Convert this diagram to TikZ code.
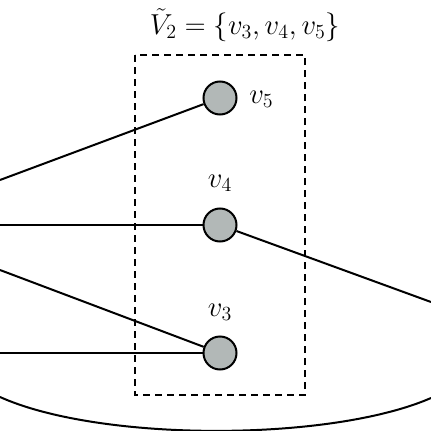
\documentclass[tikz,border=0pt]{standalone}
\definecolor{nodegray}{RGB}{178,184,183}
\begin{document}
\begin{tikzpicture}[x=1pt,y=-1pt,
  vert/.style={circle,draw=black,fill=nodegray,line width=2pt,minimum size=33pt,inner sep=0pt},
  edge/.style={line width=2pt},
  lab/.style={font=\fontsize{21}{25}\selectfont,inner sep=0pt,scale=1.39}]
\useasboundingbox (0,0) rectangle (431,431);
\node[lab] (title) at (245,25) {$\tilde{V}_2=\{v_3,v_4,v_5\}$};
\draw[line width=2pt,dash pattern=on 7pt off 5pt] (135,55) rectangle (305,395);
\node[vert] (v5) at (220,98) {};
\node[vert] (v4) at (220,225) {};
\node[vert] (v3) at (220,353) {};
\node[lab,anchor=west] (l5) at (249,99) {$v_5$};
\node[lab] (l4) at (220,183) {$v_4$};
\node[lab] (l3) at (220,312) {$v_3$};
\coordinate (a) at (0,180);
\coordinate (b) at (0,225);
\coordinate (c) at (0,270);
\coordinate (d) at (0,353);
\coordinate (e) at (431,302);
\draw[edge] (a) -- (v5);
\draw[edge] (b) -- (v4);
\draw[edge] (c) -- (v3);
\draw[edge] (d) -- (v3);
\draw[edge] (v4) -- (e);
\coordinate (f) at (0,397);
\coordinate (g) at (431,398);
\draw[edge] (f) .. controls (100,442) and (330,442) .. (g);
\end{tikzpicture}
\end{document}
